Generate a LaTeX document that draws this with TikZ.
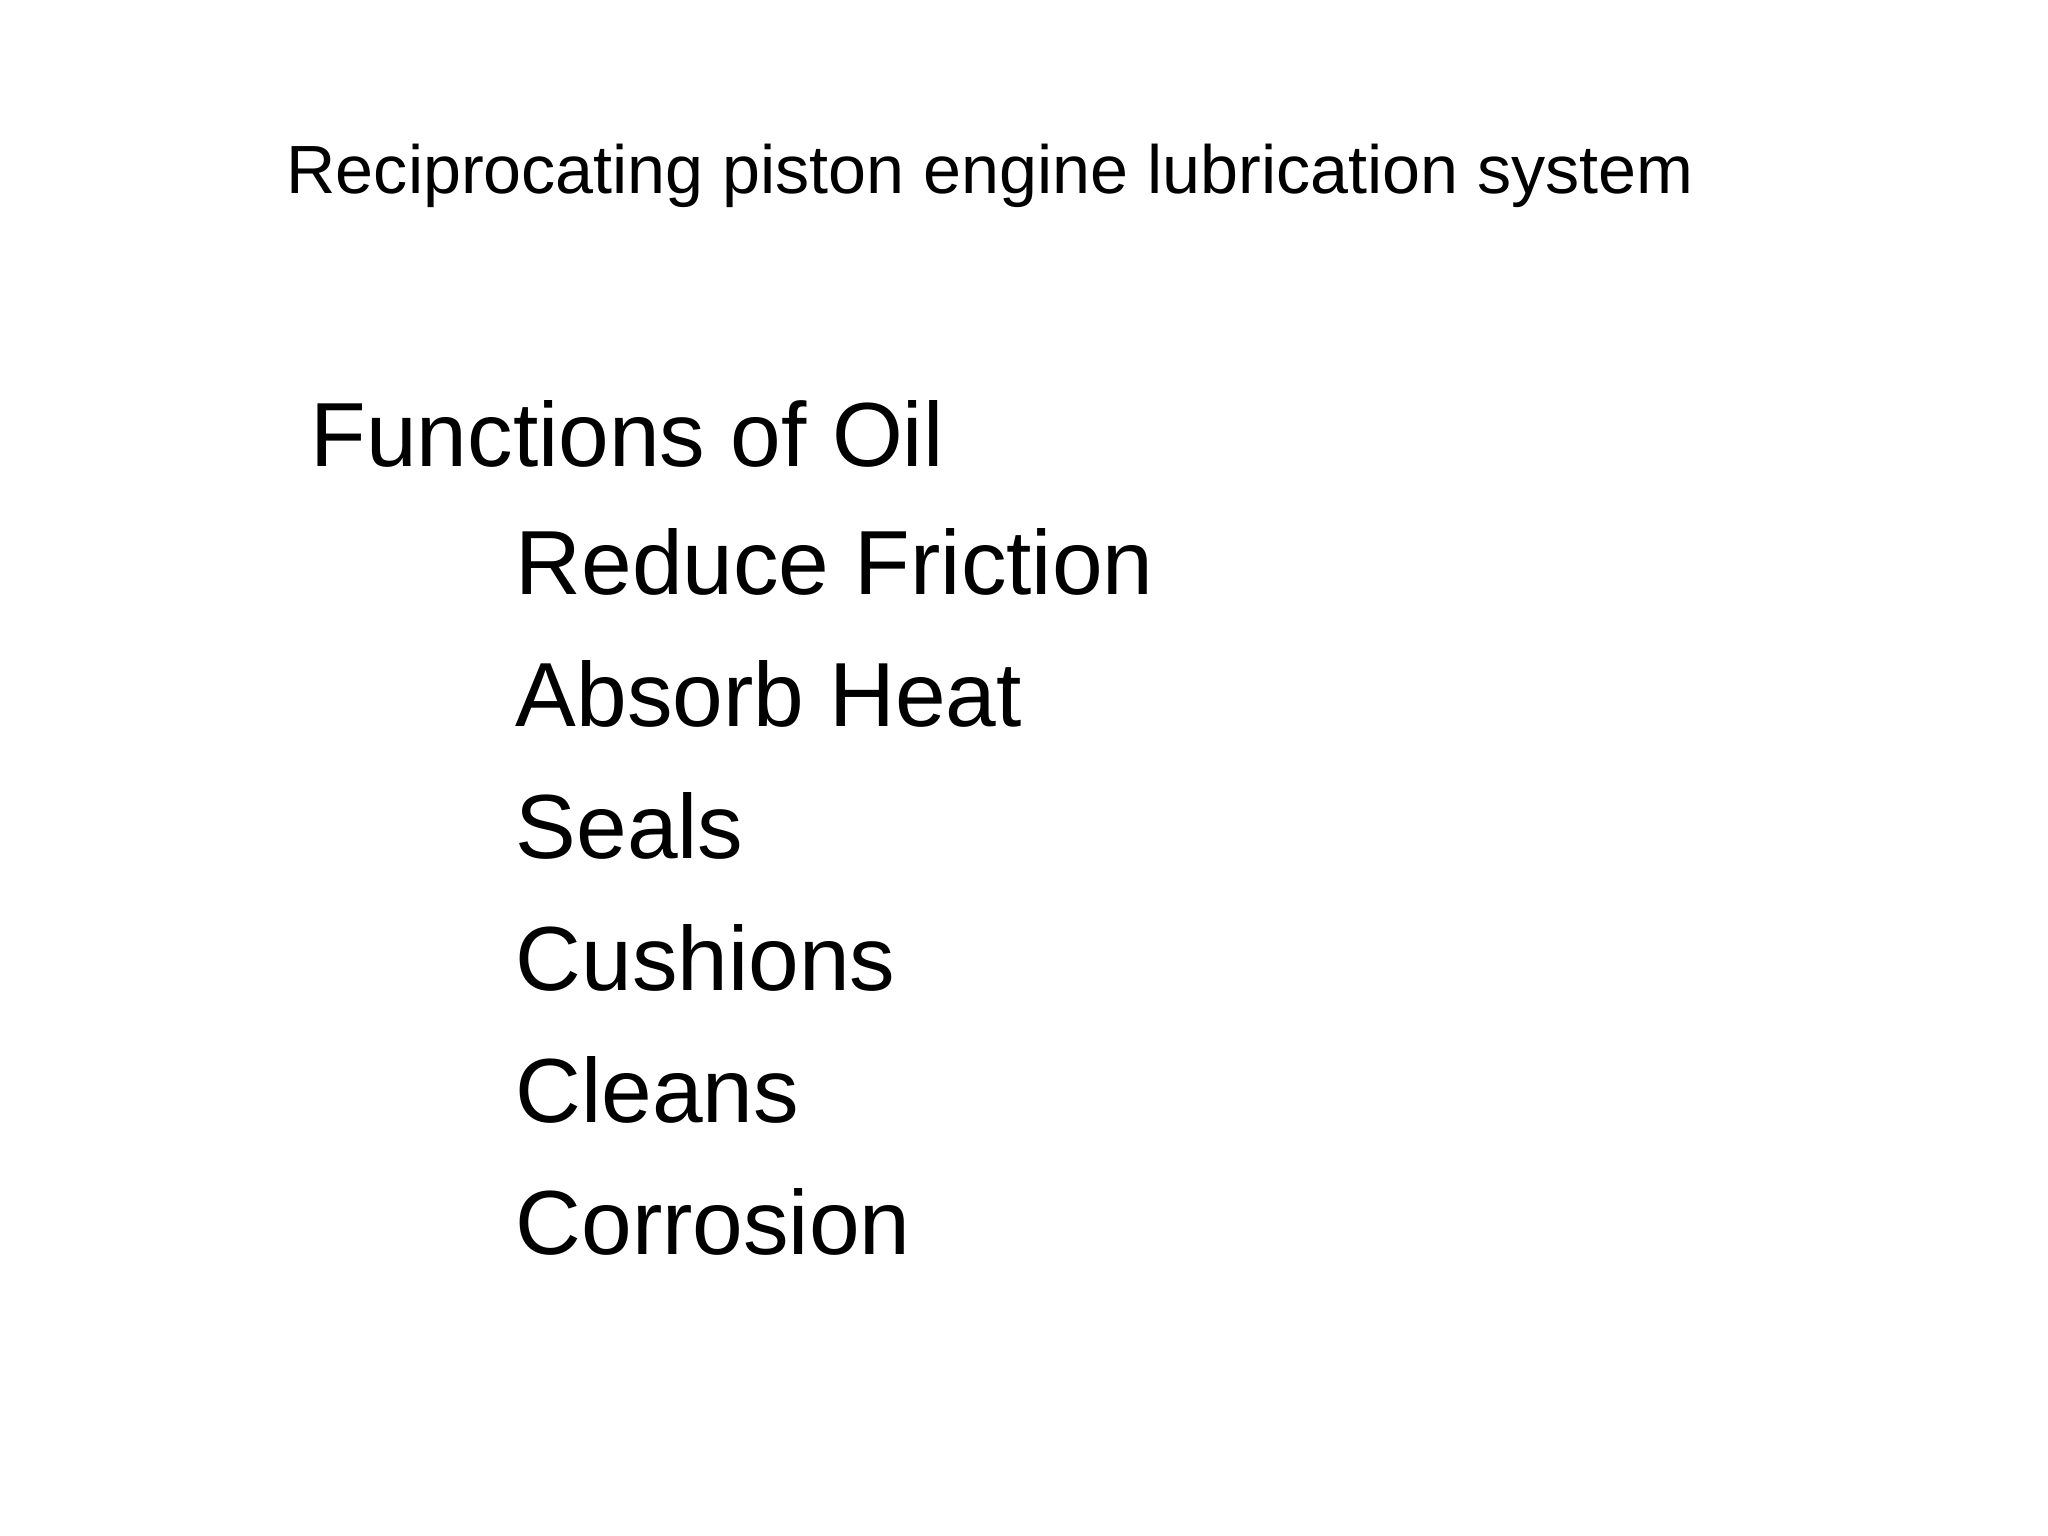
\documentclass[tikz,border=0pt]{standalone}
\usepackage{fontspec}
\setmainfont{Liberation Sans}
\begin{document}
\begin{tikzpicture}[x=0.01cm,y=-0.01cm,
  txt/.style={anchor=base west,inner sep=0pt},
  big/.style={txt,font=\fontsize{25.9pt}{28pt}\selectfont}]
\useasboundingbox (0,0) rectangle (2048,1536);
\node[txt,font=\fontsize{19.4pt}{21pt}\selectfont] (title) at (286,193) {Reciprocating piston engine lubrication system};
\node[big] (head) at (310,466) {Functions of Oil};
\node[big] (i1) at (515,594) {Reduce Friction};
\node[big] (i2) at (515,726) {Absorb Heat};
\node[big] (i3) at (515,858) {Seals};
\node[big] (i4) at (515,990) {Cushions};
\node[big] (i5) at (515,1122) {Cleans};
\node[big] (i6) at (515,1254) {Corrosion};
\end{tikzpicture}
\end{document}
